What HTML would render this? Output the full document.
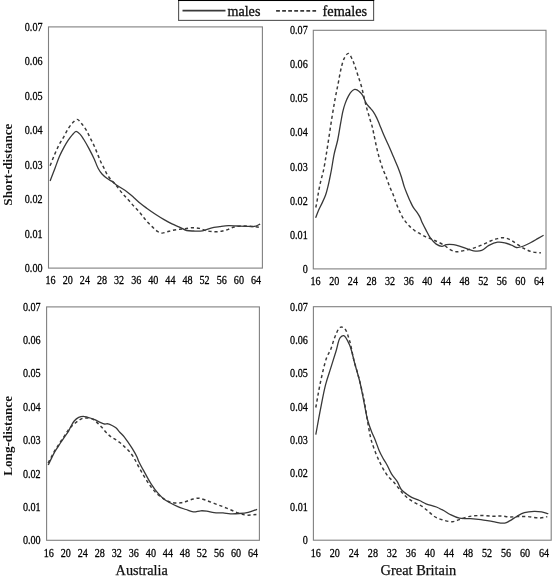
<!DOCTYPE html>
<html><head><meta charset="utf-8"><style>
html,body{margin:0;padding:0;background:#fff;}
body{width:553px;height:576px;overflow:hidden;}
svg{display:block;}
.fr{fill:none;stroke:#808080;stroke-width:1.1;}
.t{font-family:"Liberation Serif","Times New Roman",serif;font-size:12.2px;fill:#000;stroke:#000;stroke-width:0.28;}
.m{fill:none;stroke:#383838;stroke-width:1.3;stroke-linejoin:round;}
.f{fill:none;stroke:#383838;stroke-width:1.45;stroke-dasharray:3.2 2.8;}
.lg{font-family:"Liberation Serif","Times New Roman",serif;font-size:14.3px;fill:#111;stroke:#111;stroke-width:0.3;}
.ax{font-family:"Liberation Serif","Times New Roman",serif;font-size:14.3px;fill:#111;stroke:#111;stroke-width:0.25;}
.yt{font-family:"Liberation Serif","Times New Roman",serif;font-size:13.2px;font-weight:bold;fill:#111;}
</style></head><body>
<svg width="553" height="576" viewBox="0 0 553 576">
<rect x="178.6" y="0.5" width="195" height="19.9" fill="none" stroke="#555" stroke-width="1.1"/>
<line x1="178" y1="0.5" x2="374.2" y2="0.5" stroke="#000" stroke-width="1.2"/>
<line x1="182.5" y1="10.6" x2="225.5" y2="10.6" stroke="#3a3a3a" stroke-width="1.6"/>
<text class="lg" x="227.4" y="15.6" textLength="33" lengthAdjust="spacingAndGlyphs">males</text>
<line x1="276.1" y1="10.8" x2="316.1" y2="10.8" stroke="#3a3a3a" stroke-width="1.8" stroke-dasharray="3.8 2.25"/>
<text class="lg" x="322.6" y="15.6" textLength="44.5" lengthAdjust="spacingAndGlyphs">females</text>
<rect x="48.5" y="26.9" width="213.9" height="241.2" class="fr"/>
<text class="t" text-anchor="end" transform="translate(42.5 272.0) scale(0.83 1)">0.00</text>
<text class="t" text-anchor="end" transform="translate(42.5 237.5) scale(0.83 1)">0.01</text>
<text class="t" text-anchor="end" transform="translate(42.5 203.0) scale(0.83 1)">0.02</text>
<text class="t" text-anchor="end" transform="translate(42.5 168.6) scale(0.83 1)">0.03</text>
<text class="t" text-anchor="end" transform="translate(42.5 134.1) scale(0.83 1)">0.04</text>
<text class="t" text-anchor="end" transform="translate(42.5 99.7) scale(0.83 1)">0.05</text>
<text class="t" text-anchor="end" transform="translate(42.5 65.2) scale(0.83 1)">0.06</text>
<text class="t" text-anchor="end" transform="translate(42.5 30.8) scale(0.83 1)">0.07</text>
<text class="t" text-anchor="middle" transform="translate(50.6 284.0) scale(0.83 1)">16</text>
<text class="t" text-anchor="middle" transform="translate(67.8 284.0) scale(0.83 1)">20</text>
<text class="t" text-anchor="middle" transform="translate(84.9 284.0) scale(0.83 1)">24</text>
<text class="t" text-anchor="middle" transform="translate(102.0 284.0) scale(0.83 1)">28</text>
<text class="t" text-anchor="middle" transform="translate(119.1 284.0) scale(0.83 1)">32</text>
<text class="t" text-anchor="middle" transform="translate(136.2 284.0) scale(0.83 1)">36</text>
<text class="t" text-anchor="middle" transform="translate(153.3 284.0) scale(0.83 1)">40</text>
<text class="t" text-anchor="middle" transform="translate(170.4 284.0) scale(0.83 1)">44</text>
<text class="t" text-anchor="middle" transform="translate(187.5 284.0) scale(0.83 1)">48</text>
<text class="t" text-anchor="middle" transform="translate(204.6 284.0) scale(0.83 1)">52</text>
<text class="t" text-anchor="middle" transform="translate(221.8 284.0) scale(0.83 1)">56</text>
<text class="t" text-anchor="middle" transform="translate(238.9 284.0) scale(0.83 1)">60</text>
<text class="t" text-anchor="middle" transform="translate(256.0 284.0) scale(0.83 1)">64</text>
<path class="m" d="M50.10 180.90 C51.77 176.57 53.49 172.11 55.10 167.90 C56.62 163.93 57.95 159.85 59.50 156.30 C60.87 153.16 62.31 150.34 63.80 147.60 C65.18 145.06 66.59 142.63 68.10 140.40 C69.50 138.32 71.03 136.19 72.50 134.60 C73.70 133.31 74.82 131.46 76.10 131.40 C77.45 131.34 79.14 133.30 80.40 134.60 C81.73 135.97 82.59 137.59 83.80 139.50 C85.40 142.04 87.31 145.44 89.00 148.60 C90.78 151.93 92.64 155.62 94.20 159.00 C95.65 162.14 96.66 165.54 98.10 168.20 C99.30 170.42 100.47 172.27 102.00 174.00 C103.52 175.73 105.44 177.27 107.25 178.60 C108.95 179.85 111.00 180.72 112.50 181.80 C113.74 182.69 114.26 183.43 115.70 184.50 C118.31 186.43 123.97 189.51 127.20 191.90 C129.75 193.78 131.55 195.52 133.70 197.40 C135.88 199.31 137.99 201.47 140.20 203.30 C142.33 205.06 144.36 206.51 146.70 208.20 C149.37 210.13 152.48 212.29 155.40 214.20 C158.28 216.08 161.25 217.94 164.10 219.60 C166.77 221.16 169.38 222.62 172.00 223.90 C174.48 225.11 176.95 226.00 179.40 227.10 C181.85 228.20 184.23 229.86 186.70 230.50 C189.00 231.10 191.24 230.94 193.70 231.00 C196.44 231.07 199.54 231.27 202.40 230.80 C205.31 230.32 208.10 228.78 211.00 228.10 C213.87 227.42 216.80 227.10 219.70 226.70 C222.60 226.30 225.50 225.82 228.40 225.70 C231.30 225.58 234.20 225.90 237.10 226.00 C240.00 226.10 242.91 226.23 245.80 226.30 C248.67 226.37 251.85 226.85 254.40 226.40 C256.56 226.02 258.27 224.93 260.20 224.20"/>
<path class="f" d="M50.10 165.70 C51.77 161.60 53.44 157.20 55.10 153.40 C56.57 150.04 57.97 146.89 59.50 144.00 C60.88 141.40 62.39 139.28 63.80 136.80 C65.26 134.22 66.56 131.20 68.10 128.80 C69.48 126.65 70.90 124.62 72.50 123.00 C73.93 121.55 75.61 119.34 77.10 119.40 C78.61 119.47 80.07 121.87 81.50 123.50 C83.19 125.43 84.94 127.97 86.40 130.40 C87.88 132.87 89.00 135.60 90.30 138.20 C91.60 140.80 93.00 143.37 94.20 146.00 C95.39 148.60 96.41 151.27 97.50 153.90 C98.58 156.51 99.57 159.24 100.70 161.70 C101.75 163.99 102.91 166.03 104.00 168.20 C105.09 170.36 106.01 172.71 107.25 174.70 C108.43 176.59 109.81 178.25 111.20 179.90 C112.56 181.52 114.05 182.77 115.50 184.50 C117.20 186.53 119.01 189.32 120.70 191.40 C122.17 193.20 123.55 194.68 125.00 196.30 C126.45 197.92 127.95 199.48 129.40 201.10 C130.85 202.72 132.25 204.43 133.70 206.00 C135.11 207.53 136.59 208.82 138.00 210.40 C139.50 212.08 140.95 214.00 142.40 215.80 C143.85 217.60 145.13 219.44 146.70 221.20 C148.35 223.05 150.27 224.87 152.10 226.60 C153.90 228.30 155.78 230.40 157.60 231.50 C159.04 232.37 160.37 233.01 161.90 233.10 C163.58 233.20 165.57 232.27 167.30 231.80 C168.93 231.36 170.24 230.79 172.00 230.40 C174.17 229.92 177.08 229.57 179.40 229.30 C181.45 229.06 183.18 229.05 185.20 228.80 C187.43 228.53 189.84 227.77 192.20 227.70 C194.60 227.63 197.10 227.89 199.50 228.40 C201.94 228.92 204.16 230.24 206.70 230.80 C209.43 231.41 212.64 231.79 215.40 231.80 C217.91 231.80 220.35 231.45 222.60 231.00 C224.66 230.59 226.48 229.96 228.40 229.30 C230.35 228.63 232.13 227.55 234.20 227.00 C236.44 226.41 238.88 226.13 241.40 226.00 C244.16 225.86 247.34 226.12 250.10 226.30 C252.62 226.47 255.44 226.78 257.30 227.00 C258.48 227.14 259.23 227.27 260.20 227.40"/>
<rect x="313.3" y="30.3" width="232.7" height="238.6" class="fr"/>
<text class="t" text-anchor="end" transform="translate(307.7 272.8) scale(0.83 1)">0</text>
<text class="t" text-anchor="end" transform="translate(307.7 238.7) scale(0.83 1)">0.01</text>
<text class="t" text-anchor="end" transform="translate(307.7 204.6) scale(0.83 1)">0.02</text>
<text class="t" text-anchor="end" transform="translate(307.7 170.5) scale(0.83 1)">0.03</text>
<text class="t" text-anchor="end" transform="translate(307.7 136.4) scale(0.83 1)">0.04</text>
<text class="t" text-anchor="end" transform="translate(307.7 102.3) scale(0.83 1)">0.05</text>
<text class="t" text-anchor="end" transform="translate(307.7 68.2) scale(0.83 1)">0.06</text>
<text class="t" text-anchor="end" transform="translate(307.7 34.2) scale(0.83 1)">0.07</text>
<text class="t" text-anchor="middle" transform="translate(315.6 285.0) scale(0.83 1)">16</text>
<text class="t" text-anchor="middle" transform="translate(334.2 285.0) scale(0.83 1)">20</text>
<text class="t" text-anchor="middle" transform="translate(352.9 285.0) scale(0.83 1)">24</text>
<text class="t" text-anchor="middle" transform="translate(371.5 285.0) scale(0.83 1)">28</text>
<text class="t" text-anchor="middle" transform="translate(390.1 285.0) scale(0.83 1)">32</text>
<text class="t" text-anchor="middle" transform="translate(408.7 285.0) scale(0.83 1)">36</text>
<text class="t" text-anchor="middle" transform="translate(427.3 285.0) scale(0.83 1)">40</text>
<text class="t" text-anchor="middle" transform="translate(445.9 285.0) scale(0.83 1)">44</text>
<text class="t" text-anchor="middle" transform="translate(464.6 285.0) scale(0.83 1)">48</text>
<text class="t" text-anchor="middle" transform="translate(483.2 285.0) scale(0.83 1)">52</text>
<text class="t" text-anchor="middle" transform="translate(501.8 285.0) scale(0.83 1)">56</text>
<text class="t" text-anchor="middle" transform="translate(520.4 285.0) scale(0.83 1)">60</text>
<text class="t" text-anchor="middle" transform="translate(539.0 285.0) scale(0.83 1)">64</text>
<path class="m" d="M315.60 217.80 C316.67 215.10 317.69 212.21 318.80 209.70 C319.80 207.45 320.85 205.64 321.90 203.40 C323.08 200.88 324.51 198.04 325.50 195.30 C326.47 192.61 327.11 189.83 327.80 187.10 C328.48 184.40 329.01 181.77 329.60 179.00 C330.22 176.08 330.76 173.44 331.40 170.00 C332.26 165.41 333.11 159.05 334.20 153.90 C335.23 149.08 336.67 144.86 337.70 140.00 C338.82 134.73 339.66 128.54 340.60 123.40 C341.42 118.93 342.11 114.56 343.00 110.90 C343.71 107.98 344.38 105.60 345.30 103.10 C346.19 100.67 347.26 98.16 348.40 96.10 C349.39 94.33 350.41 92.56 351.60 91.40 C352.56 90.47 353.71 89.58 354.70 89.40 C355.49 89.26 356.20 89.52 357.00 89.90 C358.13 90.44 359.60 91.77 360.60 92.80 C361.49 93.72 362.06 94.45 362.80 95.70 C363.93 97.59 364.95 101.21 366.25 103.30 C367.30 104.99 368.54 106.10 369.70 107.50 C370.86 108.90 372.10 110.11 373.20 111.70 C374.45 113.52 375.66 115.80 376.70 117.90 C377.72 119.96 378.41 121.83 379.40 124.20 C380.66 127.23 382.03 130.93 383.60 134.60 C385.40 138.80 387.88 143.87 389.70 148.00 C391.25 151.51 392.51 154.54 393.90 157.80 C395.28 161.04 396.73 164.25 398.00 167.50 C399.26 170.72 400.45 173.95 401.50 177.20 C402.54 180.42 403.24 183.82 404.30 186.90 C405.29 189.80 406.55 192.65 407.60 195.20 C408.50 197.40 409.26 199.28 410.20 201.30 C411.16 203.35 412.11 205.50 413.30 207.40 C414.46 209.26 416.07 210.92 417.20 212.60 C418.20 214.08 418.99 215.31 419.80 216.90 C420.74 218.73 421.43 220.92 422.40 223.00 C423.45 225.25 424.65 227.54 425.90 229.90 C427.24 232.43 428.47 235.33 430.20 237.70 C431.91 240.06 434.04 242.65 436.20 244.10 C438.02 245.32 440.21 246.31 442.00 246.30 C443.54 246.29 444.65 244.91 446.30 244.60 C448.36 244.21 451.11 244.28 453.50 244.60 C455.95 244.93 458.39 245.84 460.80 246.60 C463.22 247.37 465.75 248.47 468.00 249.20 C469.95 249.83 471.46 250.56 473.50 250.80 C475.94 251.09 479.17 251.26 481.70 250.40 C484.32 249.51 486.29 246.76 488.90 245.40 C491.58 244.01 494.80 242.58 497.60 242.20 C500.08 241.86 502.42 242.29 504.80 242.80 C507.26 243.33 510.01 244.52 512.10 245.40 C513.74 246.09 514.82 247.27 516.40 247.50 C518.15 247.75 520.12 247.15 522.20 246.50 C524.86 245.68 528.17 243.90 530.90 242.50 C533.44 241.19 535.86 239.67 538.10 238.40 C540.06 237.29 541.77 236.33 543.60 235.30"/>
<path class="f" d="M315.80 207.50 C316.20 205.53 316.65 203.57 317.00 201.60 C317.35 199.64 317.57 197.70 317.90 195.70 C318.24 193.63 318.62 191.42 319.00 189.40 C319.35 187.53 319.70 185.84 320.10 184.00 C320.52 182.07 320.99 180.13 321.50 178.10 C322.05 175.93 322.70 174.08 323.30 171.40 C324.17 167.47 325.05 161.80 325.90 156.70 C326.82 151.20 327.66 145.61 328.60 139.50 C329.68 132.55 330.85 124.31 332.00 117.20 C333.05 110.66 334.10 104.37 335.20 98.40 C336.21 92.95 337.27 88.00 338.30 82.80 C339.33 77.60 340.21 71.71 341.40 67.20 C342.34 63.64 343.10 60.24 344.50 57.80 C345.58 55.92 347.16 53.31 348.40 53.40 C349.77 53.50 351.24 57.33 352.30 59.40 C353.32 61.40 353.89 63.32 354.70 65.60 C355.68 68.33 356.66 71.48 357.70 74.70 C358.88 78.33 360.31 82.42 361.40 86.30 C362.47 90.12 363.28 94.00 364.20 97.80 C365.11 101.53 366.05 105.79 366.90 108.90 C367.53 111.19 368.12 112.83 368.70 114.80 C369.28 116.76 369.82 118.74 370.40 120.70 C370.98 122.67 371.67 124.58 372.20 126.60 C372.74 128.68 373.06 130.46 373.60 133.00 C374.40 136.74 375.49 142.54 376.50 146.90 C377.40 150.82 378.25 154.33 379.30 158.00 C380.35 161.67 381.56 165.54 382.80 168.90 C383.90 171.88 385.14 174.31 386.25 177.20 C387.44 180.29 388.51 183.95 389.70 186.90 C390.73 189.45 391.94 191.51 392.90 193.90 C393.87 196.31 394.67 199.01 395.50 201.30 C396.23 203.30 396.83 205.04 397.60 206.90 C398.39 208.81 399.30 210.75 400.20 212.60 C401.07 214.38 401.88 216.13 402.90 217.80 C403.92 219.47 405.08 221.08 406.30 222.60 C407.51 224.11 408.78 225.55 410.20 226.90 C411.67 228.29 413.32 229.64 415.00 230.80 C416.66 231.94 418.42 232.80 420.20 233.80 C422.05 234.84 424.11 236.06 425.90 236.90 C427.41 237.61 428.75 238.01 430.20 238.60 C431.69 239.21 432.97 239.71 434.70 240.50 C437.14 241.62 440.70 243.19 443.40 244.80 C445.98 246.34 448.24 248.71 450.60 249.90 C452.56 250.89 454.33 251.64 456.40 251.80 C458.67 251.98 461.18 251.11 463.70 250.60 C466.46 250.04 469.39 249.38 472.30 248.50 C475.39 247.57 478.66 246.36 481.70 245.10 C484.69 243.86 487.61 242.12 490.40 241.00 C492.88 240.01 495.31 239.16 497.60 238.60 C499.62 238.11 501.38 237.56 503.40 237.70 C505.69 237.86 508.28 238.80 510.60 239.90 C513.09 241.08 515.37 243.18 517.80 244.70 C520.20 246.21 522.63 247.78 525.10 249.00 C527.47 250.16 529.74 251.25 532.30 251.90 C535.02 252.59 538.10 252.57 541.00 252.90"/>
<rect x="46.6" y="306.9" width="212.8" height="233.4" class="fr"/>
<text class="t" text-anchor="end" transform="translate(40.6 544.1) scale(0.83 1)">0.00</text>
<text class="t" text-anchor="end" transform="translate(40.6 510.8) scale(0.83 1)">0.01</text>
<text class="t" text-anchor="end" transform="translate(40.6 477.5) scale(0.83 1)">0.02</text>
<text class="t" text-anchor="end" transform="translate(40.6 444.1) scale(0.83 1)">0.03</text>
<text class="t" text-anchor="end" transform="translate(40.6 410.8) scale(0.83 1)">0.04</text>
<text class="t" text-anchor="end" transform="translate(40.6 377.4) scale(0.83 1)">0.05</text>
<text class="t" text-anchor="end" transform="translate(40.6 344.1) scale(0.83 1)">0.06</text>
<text class="t" text-anchor="end" transform="translate(40.6 310.8) scale(0.83 1)">0.07</text>
<text class="t" text-anchor="middle" transform="translate(48.7 556.7) scale(0.83 1)">16</text>
<text class="t" text-anchor="middle" transform="translate(65.8 556.7) scale(0.83 1)">20</text>
<text class="t" text-anchor="middle" transform="translate(82.8 556.7) scale(0.83 1)">24</text>
<text class="t" text-anchor="middle" transform="translate(99.8 556.7) scale(0.83 1)">28</text>
<text class="t" text-anchor="middle" transform="translate(116.8 556.7) scale(0.83 1)">32</text>
<text class="t" text-anchor="middle" transform="translate(133.8 556.7) scale(0.83 1)">36</text>
<text class="t" text-anchor="middle" transform="translate(150.9 556.7) scale(0.83 1)">40</text>
<text class="t" text-anchor="middle" transform="translate(167.9 556.7) scale(0.83 1)">44</text>
<text class="t" text-anchor="middle" transform="translate(184.9 556.7) scale(0.83 1)">48</text>
<text class="t" text-anchor="middle" transform="translate(201.9 556.7) scale(0.83 1)">52</text>
<text class="t" text-anchor="middle" transform="translate(219.0 556.7) scale(0.83 1)">56</text>
<text class="t" text-anchor="middle" transform="translate(236.0 556.7) scale(0.83 1)">60</text>
<text class="t" text-anchor="middle" transform="translate(253.0 556.7) scale(0.83 1)">64</text>
<path class="m" d="M48.20 465.00 C49.40 462.53 50.65 459.90 51.80 457.60 C52.81 455.57 53.66 453.68 54.70 451.90 C55.67 450.23 56.82 448.73 57.80 447.20 C58.72 445.77 59.41 444.52 60.40 443.00 C61.62 441.12 63.20 438.85 64.60 436.80 C65.98 434.78 67.66 432.66 68.75 430.80 C69.62 429.31 69.99 428.08 70.80 426.60 C71.76 424.85 72.83 422.56 74.20 421.00 C75.49 419.53 77.11 418.18 78.70 417.40 C80.13 416.70 81.69 416.30 83.20 416.30 C84.72 416.30 86.20 416.97 87.80 417.40 C89.58 417.88 92.01 418.61 93.40 419.10 C94.24 419.40 94.58 419.53 95.40 419.90 C96.77 420.53 99.15 421.99 100.80 422.70 C102.13 423.27 103.26 423.82 104.50 424.00 C105.69 424.17 106.86 423.57 108.10 423.80 C109.55 424.07 111.21 425.05 112.60 425.80 C113.90 426.50 115.06 427.13 116.20 428.10 C117.48 429.20 118.51 430.78 119.80 432.20 C121.23 433.77 123.01 435.41 124.40 437.10 C125.73 438.72 126.75 440.29 128.00 442.10 C129.44 444.18 131.04 446.50 132.50 448.90 C134.05 451.45 135.90 454.68 137.00 457.00 C137.79 458.66 137.92 459.61 138.75 461.40 C140.14 464.40 142.89 469.27 145.00 473.10 C147.06 476.84 149.07 480.71 151.25 484.10 C153.25 487.20 155.31 490.15 157.50 492.70 C159.49 495.02 161.57 497.17 163.75 498.90 C165.75 500.48 167.77 501.55 170.00 502.80 C172.43 504.16 175.14 505.58 177.80 506.70 C180.44 507.81 183.26 508.61 185.90 509.50 C188.42 510.34 190.80 511.69 193.30 511.90 C195.77 512.11 198.44 510.91 200.80 510.80 C202.88 510.70 204.63 510.84 206.70 511.10 C209.04 511.39 211.51 512.30 214.10 512.60 C216.92 512.93 220.17 512.68 223.00 512.90 C225.58 513.10 227.82 513.69 230.40 513.80 C233.23 513.92 236.34 513.75 239.30 513.50 C242.27 513.25 245.26 512.97 248.20 512.30 C251.20 511.62 254.13 510.37 257.10 509.40"/>
<path class="f" d="M48.10 463.00 C49.17 461.00 50.26 458.96 51.30 457.00 C52.29 455.13 53.17 453.24 54.20 451.50 C55.18 449.85 56.31 448.34 57.30 446.80 C58.24 445.34 58.99 444.05 60.00 442.50 C61.23 440.61 62.79 438.42 64.20 436.30 C65.66 434.09 67.14 431.36 68.60 429.50 C69.74 428.05 70.85 427.01 72.00 425.90 C73.08 424.85 74.08 423.97 75.30 423.00 C76.68 421.90 78.45 420.54 79.90 419.70 C81.06 419.03 81.98 418.49 83.20 418.20 C84.58 417.87 86.21 417.83 87.80 418.00 C89.59 418.20 91.71 418.60 93.40 419.50 C95.15 420.43 96.64 422.26 98.10 423.60 C99.42 424.82 100.54 425.84 101.80 427.20 C103.27 428.78 104.74 430.97 106.30 432.60 C107.75 434.12 109.24 435.54 110.80 436.70 C112.25 437.78 113.81 438.44 115.30 439.40 C116.82 440.38 118.33 441.34 119.80 442.50 C121.36 443.73 122.90 445.18 124.40 446.60 C125.93 448.04 127.45 449.45 128.90 451.10 C130.46 452.89 131.92 454.71 133.40 457.00 C135.22 459.82 136.88 463.53 138.75 466.90 C140.73 470.46 142.86 474.33 145.00 477.80 C147.03 481.08 149.06 484.37 151.25 487.20 C153.25 489.78 155.17 492.12 157.50 494.20 C159.85 496.29 162.61 498.24 165.30 499.70 C167.82 501.07 170.45 502.29 173.10 502.80 C175.65 503.29 178.60 503.09 180.90 502.80 C182.77 502.56 184.08 502.04 185.90 501.50 C188.14 500.83 191.03 499.55 193.30 499.00 C195.16 498.55 196.67 498.10 198.50 498.20 C200.60 498.32 202.83 499.23 205.20 500.00 C207.98 500.90 211.13 502.28 214.10 503.40 C217.06 504.52 220.18 505.61 223.00 506.70 C225.59 507.70 227.82 508.64 230.40 509.70 C233.23 510.86 236.43 512.48 239.30 513.40 C241.84 514.21 244.05 514.88 246.70 515.10 C249.70 515.35 253.17 514.70 256.40 514.50"/>
<rect x="313.4" y="306.7" width="237.8" height="233.5" class="fr"/>
<text class="t" text-anchor="end" transform="translate(307.8 544.1) scale(0.83 1)">0</text>
<text class="t" text-anchor="end" transform="translate(307.8 510.7) scale(0.83 1)">0.01</text>
<text class="t" text-anchor="end" transform="translate(307.8 477.3) scale(0.83 1)">0.02</text>
<text class="t" text-anchor="end" transform="translate(307.8 444.0) scale(0.83 1)">0.03</text>
<text class="t" text-anchor="end" transform="translate(307.8 410.6) scale(0.83 1)">0.04</text>
<text class="t" text-anchor="end" transform="translate(307.8 377.3) scale(0.83 1)">0.05</text>
<text class="t" text-anchor="end" transform="translate(307.8 343.9) scale(0.83 1)">0.06</text>
<text class="t" text-anchor="end" transform="translate(307.8 310.6) scale(0.83 1)">0.07</text>
<text class="t" text-anchor="middle" transform="translate(315.8 556.7) scale(0.83 1)">16</text>
<text class="t" text-anchor="middle" transform="translate(334.8 556.7) scale(0.83 1)">20</text>
<text class="t" text-anchor="middle" transform="translate(353.8 556.7) scale(0.83 1)">24</text>
<text class="t" text-anchor="middle" transform="translate(372.9 556.7) scale(0.83 1)">28</text>
<text class="t" text-anchor="middle" transform="translate(391.9 556.7) scale(0.83 1)">32</text>
<text class="t" text-anchor="middle" transform="translate(410.9 556.7) scale(0.83 1)">36</text>
<text class="t" text-anchor="middle" transform="translate(429.9 556.7) scale(0.83 1)">40</text>
<text class="t" text-anchor="middle" transform="translate(448.9 556.7) scale(0.83 1)">44</text>
<text class="t" text-anchor="middle" transform="translate(468.0 556.7) scale(0.83 1)">48</text>
<text class="t" text-anchor="middle" transform="translate(487.0 556.7) scale(0.83 1)">52</text>
<text class="t" text-anchor="middle" transform="translate(506.0 556.7) scale(0.83 1)">56</text>
<text class="t" text-anchor="middle" transform="translate(525.0 556.7) scale(0.83 1)">60</text>
<text class="t" text-anchor="middle" transform="translate(544.1 556.7) scale(0.83 1)">64</text>
<path class="m" d="M315.80 434.60 C317.33 426.27 318.77 417.92 320.40 409.60 C322.03 401.26 323.67 392.05 325.60 384.60 C327.20 378.43 329.06 373.46 330.80 367.90 C332.53 362.36 334.36 356.56 336.00 351.30 C337.48 346.54 338.28 340.13 340.20 337.70 C341.23 336.39 342.56 335.31 343.75 335.60 C345.69 336.08 347.93 341.19 349.60 345.00 C351.82 350.06 353.07 357.50 354.80 363.75 C356.53 370.00 358.46 376.06 360.00 382.50 C361.61 389.23 362.87 396.75 364.20 403.30 C365.39 409.17 366.25 414.99 367.60 420.00 C368.74 424.23 370.14 427.98 371.50 431.50 C372.69 434.57 373.99 437.01 375.20 440.00 C376.53 443.28 377.71 447.22 379.10 450.40 C380.33 453.22 381.65 455.74 383.00 458.20 C384.26 460.49 385.59 462.32 386.90 464.70 C388.42 467.47 389.74 471.03 391.50 473.90 C393.22 476.69 395.65 479.03 397.30 481.70 C398.87 484.23 399.59 487.38 401.25 489.50 C402.73 491.38 404.71 492.67 406.50 494.00 C408.19 495.25 409.74 496.29 411.70 497.30 C413.99 498.49 417.04 499.37 419.50 500.50 C421.79 501.55 423.53 502.80 426.00 503.80 C429.02 505.02 433.24 505.74 436.40 507.00 C439.21 508.12 441.71 509.49 444.10 510.80 C446.28 512.00 447.91 513.35 450.20 514.50 C452.90 515.85 456.12 517.50 459.40 518.20 C462.89 518.94 466.95 518.36 470.60 518.60 C474.11 518.83 477.33 519.12 480.90 519.60 C484.80 520.12 489.08 521.11 493.10 521.70 C497.01 522.27 501.70 523.56 504.70 523.10 C506.73 522.79 507.84 521.85 509.60 520.90 C511.85 519.69 514.49 517.60 517.00 516.20 C519.43 514.84 521.69 513.42 524.40 512.60 C527.37 511.71 531.16 511.38 534.20 511.30 C536.84 511.23 539.21 511.49 541.60 511.90 C543.91 512.30 546.07 513.10 548.30 513.70"/>
<path class="f" d="M315.80 407.50 C317.33 399.17 318.59 390.80 320.40 382.50 C322.22 374.14 324.49 363.51 326.70 357.50 C328.03 353.90 329.52 352.30 330.80 349.20 C332.33 345.50 333.33 340.50 335.00 336.70 C336.51 333.27 338.18 328.19 340.20 327.30 C341.48 326.73 343.15 327.24 344.40 328.30 C346.61 330.18 348.13 336.14 349.60 340.80 C351.36 346.36 352.19 353.36 353.75 359.60 C355.32 365.86 357.33 371.73 359.00 378.30 C360.83 385.54 362.74 393.82 364.20 401.25 C365.57 408.19 366.49 415.18 367.60 421.50 C368.58 427.07 369.61 433.35 370.50 437.20 C371.03 439.48 371.36 440.58 372.00 442.60 C372.83 445.25 374.03 448.69 375.20 451.70 C376.39 454.75 377.76 457.90 379.10 460.80 C380.36 463.52 381.52 466.03 383.00 468.60 C384.54 471.27 386.34 474.22 388.20 476.50 C389.84 478.51 391.72 479.82 393.40 481.70 C395.19 483.70 396.85 486.04 398.60 488.20 C400.35 490.37 402.06 492.80 403.90 494.70 C405.57 496.42 407.21 497.83 409.10 499.20 C411.09 500.64 413.41 501.89 415.60 503.10 C417.75 504.29 420.00 505.05 422.10 506.40 C424.34 507.85 426.49 509.88 428.60 511.60 C430.62 513.25 432.29 515.15 434.50 516.50 C436.81 517.91 439.41 518.95 442.20 519.80 C445.29 520.74 449.25 521.86 452.30 521.70 C454.89 521.57 456.89 520.38 459.40 519.60 C462.27 518.71 465.27 517.28 468.60 516.60 C472.36 515.83 476.81 515.57 480.90 515.50 C484.97 515.44 489.43 516.14 493.10 516.20 C496.10 516.25 498.57 515.87 501.30 516.00 C504.04 516.13 506.77 516.90 509.50 517.00 C512.20 517.10 514.74 516.67 517.60 516.60 C520.83 516.52 524.33 516.40 527.90 516.60 C531.80 516.82 536.58 518.14 540.10 518.00 C542.82 517.89 544.90 517.07 547.30 516.60"/>
<text class="ax" x="115.6" y="575" textLength="52.2" lengthAdjust="spacingAndGlyphs">Australia</text>
<text class="ax" x="380.6" y="575" textLength="75.5" lengthAdjust="spacingAndGlyphs">Great Britain</text>
<text class="yt" text-anchor="middle" transform="translate(12.0 164.6) rotate(-90)">Short-distance</text>
<text class="yt" text-anchor="middle" transform="translate(12.0 435.9) rotate(-90)">Long-distance</text>
</svg>
</body></html>
